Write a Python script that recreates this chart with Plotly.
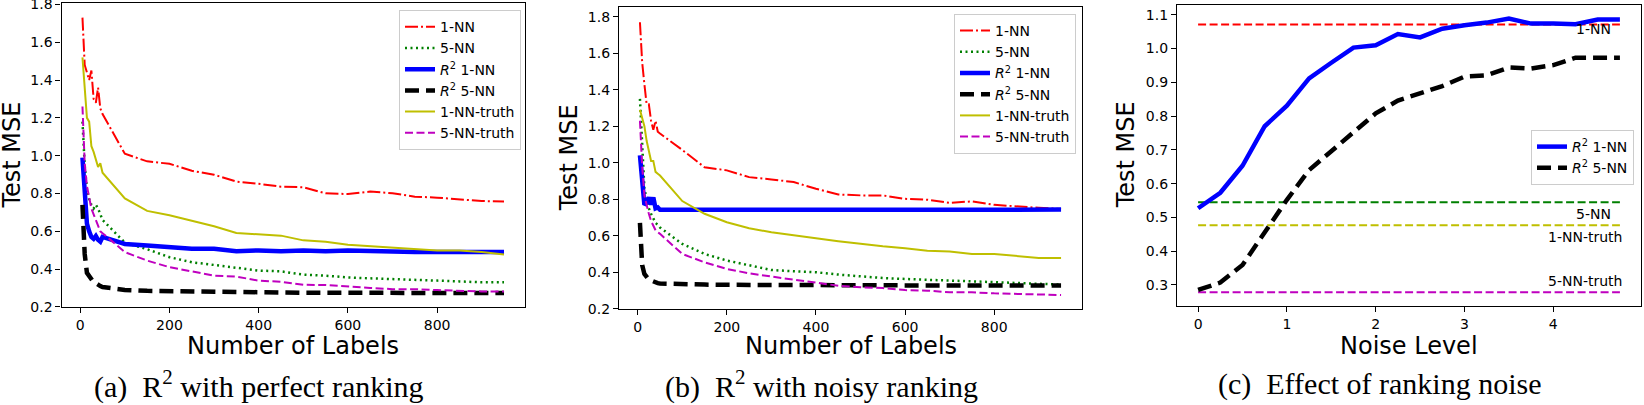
import plotly.graph_objects as go

W, H = 1644, 405

# ---------------- data ----------------
labels_x = [5, 10, 15, 20, 25, 30, 35, 40, 45, 50,
            100, 150, 200, 250, 300, 350, 400, 450, 500, 550,
            600, 650, 700, 750, 800, 850, 900, 950]

# (a) perfect ranking
a_1nn = [1.73, 1.48, 1.44, 1.40, 1.45, 1.30, 1.28, 1.36, 1.25, 1.22,
         1.01, 0.970, 0.957, 0.920, 0.899, 0.863, 0.851, 0.836, 0.833, 0.801,
         0.797, 0.810, 0.801, 0.783, 0.778, 0.771, 0.760, 0.758]
a_5nn = [1.18, 0.95, 0.82, 0.77, 0.74, 0.72, 0.74, 0.72, 0.69, 0.66,
         0.540, 0.505, 0.463, 0.436, 0.422, 0.406, 0.392, 0.388, 0.371, 0.365,
         0.356, 0.351, 0.348, 0.342, 0.339, 0.335, 0.330, 0.330]
a_r2_1nn = [0.99, 0.80, 0.64, 0.60, 0.57, 0.56, 0.575, 0.555, 0.545, 0.57,
            0.533, 0.525, 0.516, 0.508, 0.508, 0.495, 0.499, 0.495, 0.499, 0.495,
            0.499, 0.495, 0.495, 0.490, 0.490, 0.490, 0.490, 0.490]
a_r2_5nn = [0.74, 0.48, 0.38, 0.36, 0.345, 0.33, 0.325, 0.315, 0.31, 0.305,
            0.290, 0.285, 0.283, 0.283, 0.280, 0.277, 0.276, 0.275, 0.275, 0.275,
            0.275, 0.274, 0.274, 0.274, 0.273, 0.273, 0.273, 0.273]
a_1nn_truth = [1.52, 1.35, 1.20, 1.18, 1.05, 1.02, 0.98, 0.94, 0.96, 0.91,
               0.774, 0.708, 0.685, 0.655, 0.627, 0.591, 0.584, 0.577, 0.552, 0.545,
               0.529, 0.522, 0.513, 0.508, 0.499, 0.499, 0.490, 0.477]
a_5nn_truth = [1.26, 0.96, 0.84, 0.78, 0.72, 0.69, 0.66, 0.63, 0.60, 0.59,
               0.490, 0.445, 0.410, 0.388, 0.365, 0.360, 0.339, 0.333, 0.317, 0.316,
               0.307, 0.300, 0.294, 0.294, 0.289, 0.285, 0.282, 0.282]

# (b) noisy ranking
b_1nn = [1.77, 1.55, 1.43, 1.32, 1.32, 1.23, 1.18, 1.23, 1.17, 1.16,
         1.07, 0.975, 0.958, 0.921, 0.908, 0.894, 0.857, 0.826, 0.821, 0.821,
         0.802, 0.797, 0.780, 0.788, 0.769, 0.760, 0.753, 0.747]
b_5nn = [1.35, 1.08, 0.86, 0.80, 0.75, 0.72, 0.69, 0.67, 0.66, 0.645,
         0.555, 0.500, 0.464, 0.436, 0.412, 0.405, 0.400, 0.387, 0.376, 0.368,
         0.363, 0.357, 0.354, 0.350, 0.345, 0.339, 0.335, 0.332]
b_r2_1nn = [1.04, 0.90, 0.77, 0.78, 0.81, 0.77, 0.81, 0.75, 0.755, 0.742,
            0.742, 0.742, 0.748, 0.747, 0.747, 0.745, 0.744, 0.744, 0.748, 0.742,
            0.747, 0.747, 0.743, 0.743, 0.747, 0.744, 0.744, 0.743]
b_r2_5nn = [0.67, 0.44, 0.39, 0.37, 0.36, 0.355, 0.348, 0.345, 0.34, 0.338,
            0.333, 0.332, 0.331, 0.330, 0.330, 0.329, 0.329, 0.329, 0.328, 0.328,
            0.328, 0.328, 0.327, 0.327, 0.327, 0.327, 0.327, 0.327]
b_1nn_truth = [1.29, 1.24, 1.20, 1.12, 1.07, 1.01, 1.01, 0.95, 0.94, 0.93,
               0.79, 0.720, 0.674, 0.641, 0.619, 0.601, 0.586, 0.570, 0.555, 0.542,
               0.531, 0.518, 0.513, 0.500, 0.500, 0.491, 0.478, 0.478]
b_5nn_truth = [1.23, 0.98, 0.82, 0.76, 0.72, 0.68, 0.65, 0.63, 0.62, 0.61,
               0.500, 0.454, 0.418, 0.394, 0.376, 0.359, 0.345, 0.326, 0.317, 0.313,
               0.302, 0.299, 0.290, 0.290, 0.284, 0.281, 0.281, 0.275]

# (c) effect of ranking noise
noise_x = [0.0, 0.25, 0.5, 0.75, 1.0, 1.25, 1.5, 1.75, 2.0, 2.25,
           2.5, 2.75, 3.0, 3.25, 3.5, 3.75, 4.0, 4.25, 4.5, 4.75]
c_r2_1nn = [0.527, 0.573, 0.653, 0.770, 0.831, 0.912, 0.958, 1.003, 1.010, 1.043,
            1.033, 1.059, 1.069, 1.077, 1.089, 1.074, 1.074, 1.072, 1.086, 1.086]
c_r2_5nn = [0.285, 0.307, 0.359, 0.453, 0.552, 0.640, 0.695, 0.749, 0.808, 0.846,
            0.867, 0.889, 0.917, 0.921, 0.944, 0.941, 0.951, 0.973, 0.973, 0.973]
c_base_names = ["1-NN", "5-NN", "1-NN-truth", "5-NN-truth"]
c_base_values = [1.071, 0.545, 0.477, 0.278]

legend_names = ["1-NN", "5-NN", "<i>R</i><sup>2</sup> 1-NN", "<i>R</i><sup>2</sup> 5-NN",
                "1-NN-truth", "5-NN-truth"]
captions = ["(a)  R<sup>2</sup> with perfect ranking",
            "(b)  R<sup>2</sup> with noisy ranking",
            "(c)  Effect of ranking noise"]

# ---------------- styling ----------------
SANS = "DejaVu Sans"
SERIF = "Liberation Serif"
RED, GREEN, BLUE, BLACK, OLIVE, MAG = "#ff0000", "#008000", "#0000ff", "#000000", "#bfbf00", "#bf00bf"

styles = [
    dict(color=RED, width=2, dash="13px,3px,2px,3px"),
    dict(color=GREEN, width=2.5, dash="2px,3.5px"),
    dict(color=BLUE, width=4.5, dash="solid"),
    dict(color=BLACK, width=4.5, dash="14px,7px"),
    dict(color=OLIVE, width=2, dash="solid"),
    dict(color=MAG, width=2, dash="8px,3.5px"),
]

def px(x):
    return x / W

def py(y):
    return 1 - y / H

# plot boxes in pixels: (left, right, top, bottom)
boxes = [(61.5, 525, 3.3, 306.9), (619, 1082, 6.7, 308.7), (1177, 1641, 4.7, 306)]

fig = go.Figure()

series_a = [a_1nn, a_5nn, a_r2_1nn, a_r2_5nn, a_1nn_truth, a_5nn_truth]
series_b = [b_1nn, b_5nn, b_r2_1nn, b_r2_5nn, b_1nn_truth, b_5nn_truth]

for ys, st, nm in zip(series_a, styles, legend_names):
    fig.add_trace(go.Scatter(x=labels_x, y=ys, mode="lines", name=nm, line=st,
                             xaxis="x", yaxis="y", legend="legend"))
for ys, st, nm in zip(series_b, styles, legend_names):
    fig.add_trace(go.Scatter(x=labels_x, y=ys, mode="lines", name=nm, line=st,
                             xaxis="x2", yaxis="y2", legend="legend2"))

base_colors = [RED, GREEN, OLIVE, MAG]
for nm, v, col in zip(c_base_names, c_base_values, base_colors):
    fig.add_trace(go.Scatter(x=[noise_x[0], noise_x[-1]], y=[v, v], mode="lines",
                             line=dict(color=col, width=2, dash="8px,3.5px"),
                             showlegend=False, xaxis="x3", yaxis="y3"))
fig.add_trace(go.Scatter(x=noise_x, y=c_r2_1nn, mode="lines", name=legend_names[2],
                         line=styles[2], xaxis="x3", yaxis="y3", legend="legend3"))
fig.add_trace(go.Scatter(x=noise_x, y=c_r2_5nn, mode="lines", name=legend_names[3],
                         line=styles[3], xaxis="x3", yaxis="y3", legend="legend3"))

tickfont = dict(family=SANS, size=14, color="black")

def xax(box, rng, dtick, anchor):
    return dict(domain=[px(box[0]), px(box[1])], range=rng, dtick=dtick, tick0=0,
                showline=True, mirror=True, linecolor="black", linewidth=1.2,
                ticks="outside", ticklen=5, tickwidth=1.2, tickcolor="black",
                ticklabeloverflow="allow",
                showgrid=False, zeroline=False, tickfont=tickfont, anchor=anchor)

def yax(box, rng, dtick, tick0, fmt, anchor):
    return dict(domain=[py(box[3]), py(box[2])], range=rng, dtick=dtick, tick0=tick0,
                tickformat=fmt, ticklabeloverflow="allow",
                showline=True, mirror=True, linecolor="black", linewidth=1.2,
                ticks="outside", ticklen=5, tickwidth=1.2, tickcolor="black",
                showgrid=False, zeroline=False, tickfont=tickfont, anchor=anchor)

legend_common = dict(font=dict(family=SANS, size=14, color="black"),
                     bgcolor="rgba(255,255,255,0.85)", bordercolor="#cccccc",
                     borderwidth=1, xanchor="right", yanchor="top", itemwidth=30,
                     tracegroupgap=0)

fig.update_layout(
    width=W, height=H,
    margin=dict(l=0, r=0, t=0, b=0, autoexpand=False),
    paper_bgcolor="white", plot_bgcolor="white",
    xaxis=xax(boxes[0], [-42, 997], 200, "y"),
    yaxis=yax(boxes[0], [0.2, 1.806], 0.2, 0.2, ".1f", "x"),
    xaxis2=xax(boxes[1], [-42, 997], 200, "y2"),
    yaxis2=yax(boxes[1], [0.2, 1.855], 0.2, 0.2, ".1f", "x2"),
    xaxis3=xax(boxes[2], [-0.2375, 4.9875], 1, "y3"),
    yaxis3=yax(boxes[2], [0.2375, 1.13], 0.1, 0.3, ".1f", "x3"),
    legend=dict(x=px(521), y=py(10.2), **legend_common),
    legend2=dict(x=px(1076), y=py(14), **legend_common),
    legend3=dict(x=px(1634), y=py(130), **legend_common),
)

ann = []
xtitles = ["Number of Labels", "Number of Labels", "Noise Level"]
ytitle_x = [12.5, 568.6, 1126]
for i, box in enumerate(boxes):
    cx = (box[0] + box[1]) / 2
    ann.append(dict(x=px(cx), y=py(346), xref="paper", yref="paper", text=xtitles[i],
                    showarrow=False, xanchor="center", yanchor="middle",
                    font=dict(family=SANS, size=24, color="black")))
    cy = (box[2] + box[3]) / 2
    ann.append(dict(x=px(ytitle_x[i]), y=py(cy), xref="paper", yref="paper", text="Test MSE",
                    showarrow=False, xanchor="center", yanchor="middle", textangle=-90,
                    font=dict(family=SANS, size=24, color="black")))
cap_x = [258.7, 821, 1379]
for i in range(3):
    ann.append(dict(x=px(cap_x[i]), y=py(384), xref="paper", yref="paper", text=captions[i],
                    showarrow=False, xanchor="center", yanchor="middle",
                    font=dict(family=SERIF, size=30, color="black")))
lab_x = [4.447, 4.447, 4.36, 4.36]
lab_y = [1.057, 0.510, 0.441, 0.312]
for nm, xx, yy in zip(c_base_names, lab_x, lab_y):
    ann.append(dict(x=xx, y=yy, xref="x3", yref="y3", text=nm, showarrow=False,
                    xanchor="center", yanchor="middle",
                    font=dict(family=SANS, size=14, color="black")))
fig.update_layout(annotations=ann)

fig.write_html("out.html", config={"displayModeBar": False},
               post_script="document.body.style.margin='0';document.body.style.overflow='hidden';")
